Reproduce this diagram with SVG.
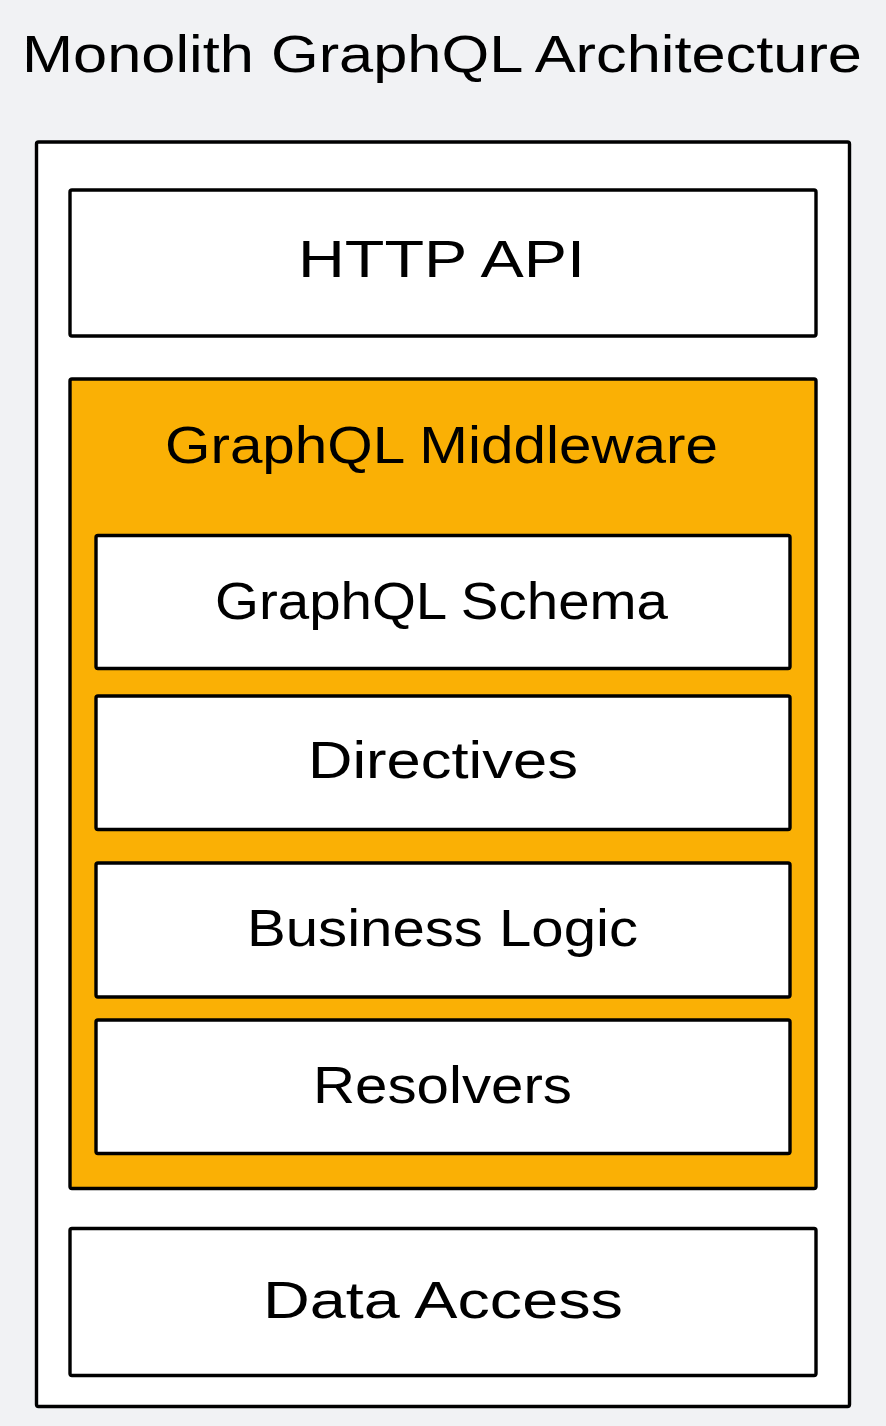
<svg xmlns="http://www.w3.org/2000/svg" width="886" height="1426" viewBox="0 0 886 1426">
  <style>
    .box { stroke: #000; stroke-width: 3.4; stroke-linejoin: round; }
    .white { fill: #ffffff; }
    .orange { fill: #fab005; }
    .label { font-family: "Liberation Sans", "DejaVu Sans", sans-serif; font-size: 52px; fill: #000; text-anchor: middle; }
  </style>
  <rect x="0" y="0" width="886" height="1426" fill="#f1f2f4"/>

  <g id="title">
    <text class="label" x="442" y="72" textLength="840" lengthAdjust="spacingAndGlyphs">Monolith GraphQL Architecture</text>
  </g>

  <g id="monolith">
    <rect class="box white" x="36.5" y="142" width="813" height="1264.5" rx="2"/>
  </g>

  <g id="http-api">
    <rect class="box white" x="70" y="190" width="746" height="146" rx="2"/>
    <text class="label" x="441.5" y="277" textLength="287" lengthAdjust="spacingAndGlyphs">HTTP API</text>
  </g>

  <g id="graphql-middleware">
    <rect class="box orange" x="70" y="379" width="746" height="809.5" rx="2"/>
    <text class="label" x="441.5" y="463" textLength="553" lengthAdjust="spacingAndGlyphs">GraphQL Middleware</text>
  </g>

  <g id="graphql-schema">
    <rect class="box white" x="96" y="535.5" width="694" height="133" rx="2"/>
    <text class="label" x="441.5" y="619" textLength="453" lengthAdjust="spacingAndGlyphs">GraphQL Schema</text>
  </g>

  <g id="directives">
    <rect class="box white" x="96" y="696" width="694" height="133.5" rx="2"/>
    <text class="label" x="443" y="778" textLength="270" lengthAdjust="spacingAndGlyphs">Directives</text>
  </g>

  <g id="business-logic">
    <rect class="box white" x="96" y="863" width="694" height="134" rx="2"/>
    <text class="label" x="442.5" y="946" textLength="391" lengthAdjust="spacingAndGlyphs">Business Logic</text>
  </g>

  <g id="resolvers">
    <rect class="box white" x="96" y="1020" width="694" height="133.5" rx="2"/>
    <text class="label" x="442.5" y="1103" textLength="259" lengthAdjust="spacingAndGlyphs">Resolvers</text>
  </g>

  <g id="data-access">
    <rect class="box white" x="70" y="1228.5" width="746" height="147" rx="2"/>
    <text class="label" x="443" y="1318" textLength="360" lengthAdjust="spacingAndGlyphs">Data Access</text>
  </g>
</svg>
